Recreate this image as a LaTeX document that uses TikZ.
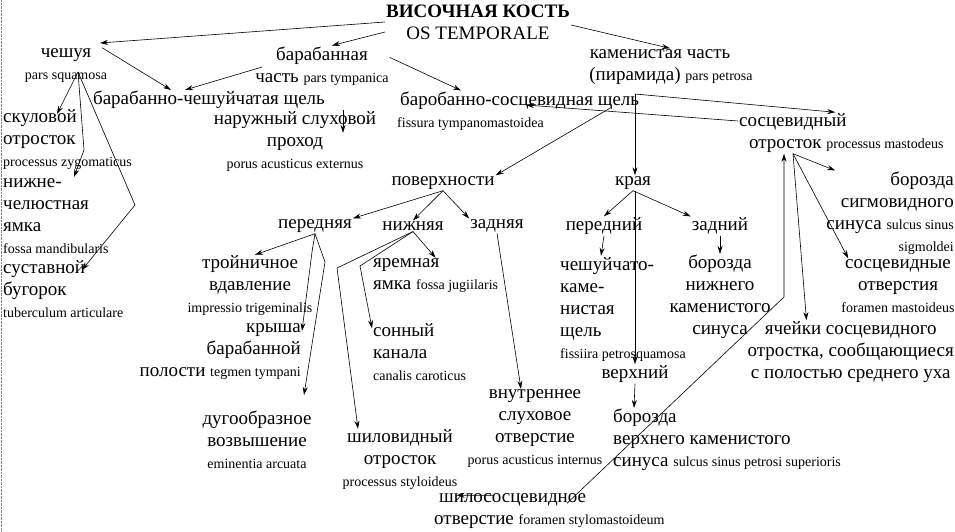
\documentclass[tikz,border=0pt]{standalone}
\usepackage{fontspec}
\setmainfont{Liberation Serif}
\usetikzlibrary{arrows.meta}
\newcommand{\lt}[1]{{\fontsize{14}{16}\selectfont #1}}
\tikzstyle{lbl} = [inner sep=1pt, align=center, font=\fontsize{19}{22}\selectfont]
\tikzstyle{lft} = [lbl, align=left, anchor=west]
\tikzstyle{arr} = [-{Stealth[length=8pt,width=5pt]}, line width=0.6pt]

\begin{document}
\begin{tikzpicture}[x=1pt, y=-1pt]
	\useasboundingbox (0,0) rectangle (955,532);
	\draw[gray, densely dotted] (1,0) -- (1,532);

	\node[lbl] (title) at (478,22) {\textbf{ВИСОЧНАЯ КОСТЬ}\\OS TEMPORALE};
	\node[lbl] (cheshuya) at (66,66) {чешуя\\\lt{pars squamosa}};
	\node[lbl] (baraban) at (322,66) {барабанная\\часть \lt{pars tympanica}};
	\node[lbl] (kamen) at (660,67) {каменистая часть\\\hspace{22pt}(пирамида) \lt{pars petrosa}};
	\node[lbl] (bcs) at (209,100) {барабанно-чешуйчатая щель};
	\node[lbl] (nsp) at (295,141) {наружный слуховой\\проход\\\lt{porus acusticus externus}};
	\node[lft] (bss) at (396,111) {\hspace{3pt}баробанно-сосцевидная щель\\\lt{fissura tympanomastoidea}};
	\node[lft] (skul) at (2,140) {скуловой\\отросток\\\lt{processus zygomaticus}};
	\node[lft] (nizh) at (2,216) {нижне-\\челюстная\\ямка\\\lt{fossa mandibularis}};
	\node[lft] (sust) at (2,289) {суставной\\бугорок\\\lt{tuberculum articulare}};
	\node[lft] (sosc) at (738,133) {сосцевидный\\\hspace{10pt}отросток \lt{processus mastodeus}};
	\node[lbl] (poverh) at (443,183) {поверхности};
	\node[lbl] (kraya) at (633,183) {края};
	\node[lbl] (pered) at (315,226) {передняя};
	\node[lbl] (nizhn) at (413,226) {нижняя};
	\node[lbl] (zadn) at (497,226) {задняя};
	\node[lbl] (peredniy) at (604,226) {передний};
	\node[lbl] (zadniy) at (720,226) {задний};
	\node[lbl, align=right, anchor=east] (borsig) at (955,213) {борозда\hspace{8pt}\\сигмовидного\\синуса \lt{sulcus sinus}\\\lt{sigmoldei}};
	\node[lbl] (troin) at (250,286) {тройничное\\вдавление\\\lt{impressio trigeminalis}};
	\node[lbl, align=right, anchor=east] (krysha) at (302,352) {крыша\hspace{44pt}\\барабанной\\полости \lt{tegmen tympani}};
	\node[lft] (yarem) at (372,276) {яремная\\ямка \lt{fossa jugiilaris}};
	\node[lft] (sonny) at (372,352) {сонный\\канала\\\lt{canalis caroticus}};
	\node[lft] (cheshk) at (559,309) {чешуйчато-\\каме-\\нистая\\щель\\\lt{fissiira petrosquamosa}};
	\node[lbl] (borniz) at (720,297) {борозда\\нижнего\\каменистого\\синуса};
	\node[lbl] (sosotv) at (898,286) {сосцевидные\\отверстия\\\lt{foramen mastoideus}};
	\node[lbl, anchor=east] (yach) at (955,352) {ячейки сосцевидного\\отростка, сообщающиеся\\с полостью среднего уха};
	\node[lbl] (verkh) at (635,374) {верхний};
	\node[lbl] (vnutr) at (535,429) {внутреннее\\слуховое\\отверстие\\\lt{porus acusticus internus}};
	\node[lbl] (dugo) at (257,440) {дугообразное\\возвышение\\\lt{eminentia arcuata}};
	\node[lbl] (shilo) at (400,460) {шиловидный\\отросток\\\lt{processus styloideus}};
	\node[lft] (borv) at (612,440) {борозда\\верхнего каменистого\\синуса \lt{sulcus sinus petrosi superioris}};
	\node[lft] (shs) at (433,511) {\hspace{5pt}шилососцевидное\\отверстие \lt{foramen stylomastoideum}};

	% bend points
	\coordinate (ch) at (78,72);
	\coordinate (b1) at (84,150);
	\coordinate (b2) at (135,205);
	\coordinate (k0) at (635,94);
	\coordinate (bs0) at (612,107);
	\coordinate (p1) at (312,252);
	\coordinate (p2) at (325,262);
	\coordinate (n1) at (337,268);
	\coordinate (n2) at (360,266);
	\coordinate (s1) at (784,297);

	\draw[arr] (title.west) -- (100,43);
	\draw[arr] ([yshift=-10pt]title.west) -- ([xshift=10pt]baraban.north);
	\draw[arr] ([yshift=-3pt]title.east) -- ([xshift=10pt]kamen.north);
	\draw[arr] ([xshift=-6pt]cheshuya.north east) -- ([xshift=-38pt]bcs.north);
	\draw[arr] ([xshift=8pt,yshift=-1pt]baraban.west) -- ([xshift=-24pt]bcs.north);
	\draw[arr] ([yshift=-12pt]baraban.north east) -- ([xshift=65pt]bss.north west);
	\draw[arr] ([xshift=48pt]nsp.north) -- ++(0,23);
	\draw[arr] (ch) -- (57,114);
	\draw[arr] (ch) -- (b1) -- (74,177);
	\draw[arr] (ch) -- (b2) -- (82,270);
	\draw[arr] (k0) -- ([xshift=-6pt]sosc.north);
	\draw[arr] (k0) -- (kraya.north -| k0);
	\draw[arr] (kraya.south -| k0) -- (verkh.north -| k0);
	\draw[arr] (bs0) -- (poverh.north east);
	\draw[arr] ([yshift=12pt]sosc.west) -- ([xshift=130pt,yshift=6pt]bss.west);
	\draw[arr] (poverh.south) -- (pered.north east);
	\draw[arr] (poverh.south) -- (nizhn.north);
	\draw[arr] (poverh.south) -- (zadn.north west);
	\draw[arr] (kraya.south) -- (peredniy.north);
	\draw[arr] (kraya.south) -- (zadniy.north west);
	\draw[arr] ([xshift=55pt]sosc.south west) -- ([xshift=10pt]borsig.north west);
	\draw[arr] ([xshift=55pt]sosc.south west) -- ([xshift=8pt]sosotv.north west);
	\draw[arr] ([xshift=55pt]sosc.south west) -- ([xshift=60pt]yach.north west);
	\draw[arr] (pered.south) -- ([xshift=5pt]troin.north);
	\draw[arr] (pered.south) -- (p1) -- ([yshift=-8pt]krysha.north east);
	\draw[arr] (pered.south) -- (p2) -- (304,395);
	\draw[arr] (nizhn.south) -- (yarem.north);
	\draw[arr] (nizhn.south) -- (n1) -- ([xshift=-42pt]shilo.north);
	\draw[arr] (nizhn.south) -- (n2) -- ([yshift=-6pt]sonny.north west);
	\draw[arr] (zadn.south) -- ([xshift=-14pt]vnutr.north);
	\draw[arr] (peredniy.south) -- ([xshift=42pt]cheshk.north west);
	\draw[arr] (zadniy.south) -- (borniz.north);
	\draw[arr] (verkh.south -| k0) -- ([xshift=22pt]borv.north west);
	\draw[arr] ([xshift=60pt,yshift=-3pt]shs.north west) -- ([xshift=-2pt,yshift=-4pt]shilo.south east);
	\draw[arr] ([xshift=134pt,yshift=-11pt]shs.north west) -- (s1) -- ([xshift=46pt]sosc.south west);
\end{tikzpicture}
\end{document}
